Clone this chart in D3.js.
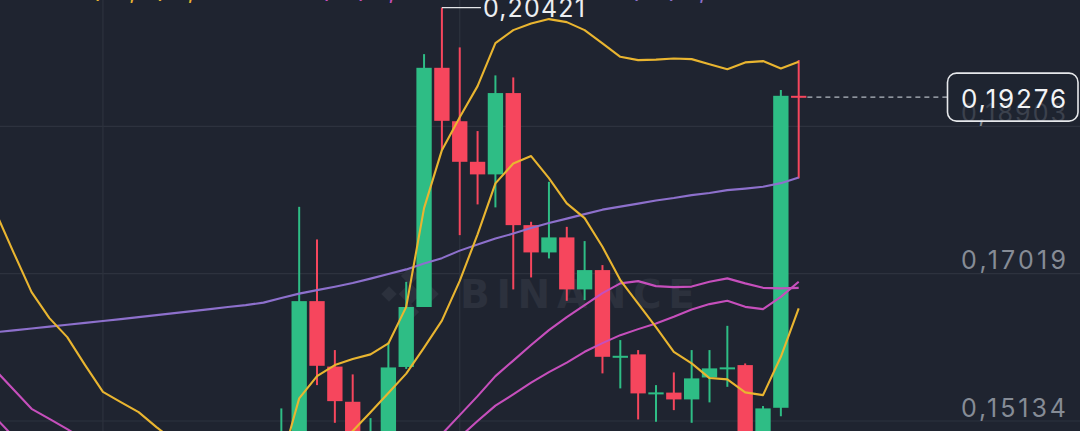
<!DOCTYPE html>
<html>
<head>
<meta charset="utf-8">
<script src="https://cdn.jsdelivr.net/npm/d3@7"></script>
<style>
  html, body { margin: 0; padding: 0; background: #1f2430; overflow: hidden; }
  svg { display: block; }
</style>
</head>
<body>
<div id="kline"></div>
<script>
// candles, left to right (the first ones sit partly below the visible area)
const opens  = [0.1450, 0.1485, 0.16667, 0.1583, 0.1538, 0.1462, 0.1488, 0.15825, 0.16592, 0.19651,
                0.18968, 0.18449, 0.18288, 0.19328, 0.17639, 0.1729, 0.17482, 0.16817, 0.17064, 0.15955,
                0.15986, 0.15487, 0.15497, 0.1541, 0.15691, 0.15807, 0.15849, 0.1472, 0.15303, 0.19293]
const highs  = [0.15295, 0.17873, 0.17456, 0.16041, 0.1573, 0.15171, 0.16139, 0.16914, 0.19826, 0.20421,
                0.19912, 0.18842, 0.19554, 0.19528, 0.17682, 0.18193, 0.17617, 0.17435, 0.17128, 0.16169,
                0.16041, 0.15593, 0.15755, 0.16041, 0.16041, 0.16351, 0.1587, 0.15325, 0.19366, 0.1975]
const lows   = [0.1440, 0.1478, 0.15593, 0.15111, 0.1462, 0.1455, 0.1480, 0.1580, 0.16592, 0.18599,
                0.17511, 0.17904, 0.17866, 0.16817, 0.1697, 0.17213, 0.16671, 0.1668, 0.15743, 0.15551,
                0.15154, 0.15124, 0.15273, 0.15111, 0.15372, 0.15571, 0.1460, 0.1465, 0.15196, 0.18237]
const closes = [0.1495, 0.16667, 0.1584, 0.15388, 0.1475, 0.1488, 0.15819, 0.16592, 0.19651, 0.18973,
                0.18449, 0.18288, 0.19328, 0.17639, 0.1729, 0.17482, 0.16817, 0.17064, 0.15955, 0.15968,
                0.15487, 0.155, 0.1541, 0.15679, 0.15807, 0.1582, 0.1472, 0.15295, 0.19293, 0.19276]
const firstCandleSlot = 16   // line slots start 16 bars before the first drawn candle

// indicator lines, one value per slot (null = off screen)
const ma7 = [0.1780, 0.17285, 0.16782, 0.1645, 0.16207, 0.15849, 0.15507, 0.15376, 0.15248, 0.15056,
             0.1488, null, null, null, null, null, null, null, null, 0.1488,
             0.15005, 0.15245, 0.15491, 0.1574, 0.16073, 0.16417, 0.16926, 0.17522, 0.18173, 0.18428,
             0.18522, 0.1824, 0.17917, 0.17729, 0.17362, 0.16936, 0.16635, 0.16335, 0.16019, 0.15871,
             0.15683, 0.15666, 0.155, 0.15465, 0.15955, 0.16574]
const bollUp = [null, null, null, null, null, null, null, null, null, null,
                null, null, null, null, null, null, 0.1461, 0.15423, 0.15708, 0.15849,
                0.15926, 0.15986, 0.16126, 0.16594, 0.17857, 0.18598, 0.1902, 0.19417, 0.19967, 0.20133,
                0.20219, 0.20274, 0.20235, 0.20133, 0.19963, 0.19792, 0.19749, 0.19756, 0.19771, 0.19762,
                0.19698, 0.19634, 0.1972, 0.19737, 0.19643, 0.19728]
const bollMid = [0.15777, 0.15533, 0.1529, 0.15161, 0.1503, 0.1489, null, null, null, null,
                 null, null, null, null, null, null, null, null, null, null,
                 null, null, null, null, 0.1478, 0.14967, 0.15209, 0.15452, 0.15708, 0.15906,
                 0.16105, 0.16296, 0.16463, 0.16616, 0.1677, 0.16894, 0.16923, 0.16859, 0.16846, 0.16853,
                 0.16914, 0.16958, 0.16894, 0.16837, 0.1683, 0.16837]
const ma25 = [0.15171, 0.1493, null, null, null, null, null, null, null, null,
              null, null, null, null, null, null, null, null, null, null,
              null, null, null, null, null, 0.1475, 0.14928, 0.15133, 0.15331, 0.15475,
              0.15625, 0.15759, 0.15881, 0.16019, 0.1613, 0.16232, 0.16309, 0.16382, 0.16467, 0.16559,
              0.16629, 0.16671, 0.16594, 0.16565, 0.16722, 0.16914]
const ma99 = [0.16271, 0.16293, 0.16316, 0.16341, 0.16365, 0.16389, 0.16412, 0.16437, 0.16463, 0.16488,
              0.16514, 0.16539, 0.16565, 0.16591, 0.16616, 0.16648, 0.16706, 0.16763, 0.16808, 0.16851,
              0.16898, 0.16955, 0.17013, 0.17073, 0.17147, 0.17217, 0.17313, 0.1739, 0.17467, 0.17531,
              0.17601, 0.17665, 0.17722, 0.1778, 0.17837, 0.17876, 0.17914, 0.17953, 0.17985, 0.18023,
              0.18049, 0.18087, 0.18106, 0.18129, 0.18176, 0.18247]

const priceTicks = [0.18903, 0.17019, 0.15134]
const gridSlots = [6, 26]
const lastPrice = 0.19276
const topHigh = 0.20421
const topHighSlot = 25
const legendText = ['BOLL(20, 2) 0,19728', 'MA(25) 0,16914', 'MA(99) 0,18247']
const legendColor = ['#e9b530', '#c64fbc', '#8d70cc']
const legendX = [30, 282, 592]

const width = 1080
const height = 431
const bg = '#1f2430'
const up = '#2ebd85'
const down = '#f6465d'

const svg = d3.select('#kline').append('svg')
    .attr('width', width)
    .attr('height', height)
    .attr('viewBox', `0 0 ${width} ${height}`)
    .style('font-family', 'Inter, Roboto, sans-serif')

svg.append('rect').attr('width', width).attr('height', height).attr('fill', bg)

const slots = d3.range(ma99.length)
const x = d3.scalePoint().domain(slots).range([-4.1, 798.7])
const y = d3.scaleLinear().domain([0.15134, 0.18903]).range([421, 126.3])
const bodyW = x.step() * 0.86

// comma as decimal mark, like the app
const fmt = d3.formatLocale({decimal: ',', thousands: '.', grouping: [3], currency: ['', '']}).format('.5f')

// grid
svg.append('g')
    .selectAll('line')
    .data(priceTicks)
    .join('line')
    .attr('x1', 0).attr('x2', width)
    .attr('y1', d => y(d)).attr('y2', d => y(d))
    .attr('stroke', '#2d323e').attr('stroke-width', 1.2)
svg.append('g')
    .selectAll('line')
    .data(gridSlots)
    .join('line')
    .attr('x1', d => x(d)).attr('x2', d => x(d))
    .attr('y1', 0).attr('y2', height)
    .attr('stroke', '#2d323e').attr('stroke-width', 1.2)

// watermark
const wm = svg.append('g').attr('fill', '#2c313d')
const logo = [[410, 294, 8], [389, 294, 5.5], [431, 294, 5.5], [410, 276, 6.5], [410, 312, 6.5]]
wm.selectAll('rect')
    .data(logo)
    .join('rect')
    .attr('x', d => -d[2]).attr('y', d => -d[2])
    .attr('width', d => d[2] * 2).attr('height', d => d[2] * 2)
    .attr('transform', d => `translate(${d[0]},${d[1]}) rotate(45)`)
wm.append('text')
    .attr('x', 460).attr('y', 308)
    .attr('font-family', '"DejaVu Sans", sans-serif')
    .attr('font-size', 39).attr('font-weight', 700)
    .attr('textLength', 235).attr('lengthAdjust', 'spacing')
    .text('BINANCE')

// price labels on the right
svg.append('g')
    .selectAll('text')
    .data(priceTicks)
    .join('text')
    .attr('x', 961).attr('y', d => y(d) - 4.5)
    .attr('font-size', 25)
    .attr('fill', '#868c96')
    .attr('textLength', 105).attr('lengthAdjust', 'spacing')
    .text(d => fmt(d))

// candles
const candles = opens.map((o, i) => ({
    slot: i + firstCandleSlot, o: o, h: highs[i], l: lows[i], c: closes[i]
}))
const cg = svg.append('g')
cg.selectAll('line')
    .data(candles)
    .join('line')
    .attr('x1', d => x(d.slot)).attr('x2', d => x(d.slot))
    .attr('y1', d => y(d.h)).attr('y2', d => y(d.l))
    .attr('stroke', d => d.c >= d.o ? up : down)
    .attr('stroke-width', 2)
cg.selectAll('rect')
    .data(candles)
    .join('rect')
    .attr('x', d => x(d.slot) - bodyW / 2)
    .attr('width', bodyW)
    .attr('y', d => y(Math.max(d.o, d.c)))
    .attr('height', d => Math.max(2, Math.abs(y(d.o) - y(d.c))))
    .attr('fill', d => d.c >= d.o ? up : down)

// indicator lines
const series = [
    {values: ma99, color: '#8d70cc'},
    {values: ma25, color: '#c64fbc'},
    {values: bollMid, color: '#c64fbc'},
    {values: ma7, color: '#e9b530'},
    {values: bollUp, color: '#e9b530'}
]
const line = d3.line()
    .defined(d => d != null)
    .x((d, i) => x(i))
    .y(d => y(d))
svg.append('g')
    .selectAll('path')
    .data(series)
    .join('path')
    .attr('fill', 'none')
    .attr('stroke', d => d.color)
    .attr('stroke-width', 2.1)
    .attr('stroke-linejoin', 'round')
    .attr('d', d => line(d.values))

// legend row, cut off by the top edge
svg.append('g')
    .selectAll('text')
    .data(legendText)
    .join('text')
    .attr('x', (d, i) => legendX[i]).attr('y', -0.8)
    .attr('font-size', 24)
    .attr('fill', (d, i) => legendColor[i])
    .text(d => d)

// highest price marker
const hx = x(topHighSlot)
svg.append('line')
    .attr('x1', hx).attr('x2', hx + 39)
    .attr('y1', y(topHigh)).attr('y2', y(topHigh))
    .attr('stroke', '#e3e5e8').attr('stroke-width', 1.3)
svg.append('text')
    .attr('x', hx + 41).attr('y', y(topHigh) + 9.5)
    .attr('font-size', 25).attr('fill', '#eceef1')
    .attr('textLength', 102).attr('lengthAdjust', 'spacing')
    .text(fmt(topHigh))

// current price
const py = y(lastPrice)
svg.append('line')
    .attr('x1', x(slots.length - 1) + bodyW / 2 + 1).attr('x2', 947)
    .attr('y1', py).attr('y2', py)
    .attr('stroke', '#b4b9c1').attr('stroke-width', 1.4)
    .attr('stroke-dasharray', '5,4')
svg.append('rect')
    .attr('x', 947.5).attr('y', py - 24)
    .attr('width', 130.5).attr('height', 48)
    .attr('rx', 9)
    .attr('fill', bg).attr('fill-opacity', 0.72)
    .attr('stroke', '#e6e8eb').attr('stroke-width', 1.6)
svg.append('text')
    .attr('x', 961).attr('y', py + 10.5)
    .attr('font-size', 26).attr('fill', '#f2f3f5')
    .attr('textLength', 105).attr('lengthAdjust', 'spacing')
    .text(fmt(lastPrice))
</script>
</body>
</html>
